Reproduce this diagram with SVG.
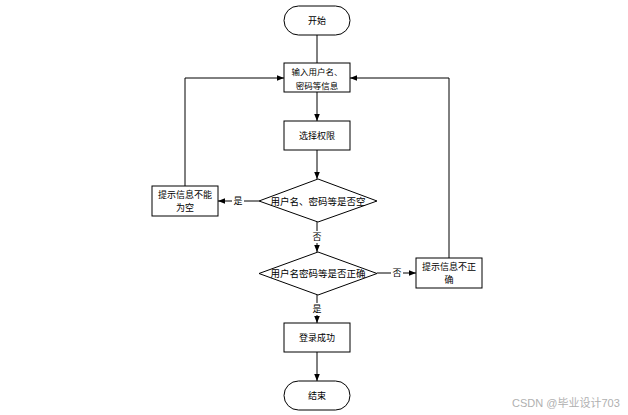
<svg xmlns="http://www.w3.org/2000/svg" width="628" height="415" viewBox="0 0 628 415">
<defs>
<marker id="arr" viewBox="0 0 10 10" refX="10" refY="5" markerWidth="7" markerHeight="7" markerUnits="userSpaceOnUse" orient="auto">
<path d="M0,1 L10,5 L0,9 z" fill="#000"/>
</marker>
<style>
.shape{fill:#fff;stroke:#000;stroke-width:1}
.t{font-family:"Liberation Sans","Noto Sans CJK SC",sans-serif;font-size:9px;fill:#000;text-anchor:middle;dominant-baseline:central}
.c{fill:none;stroke:#000;stroke-width:1}
.wm{font-family:"Liberation Sans","Noto Sans CJK SC",sans-serif;font-size:11px;fill:#b0b0b0}
</style>
</defs>
<rect width="628" height="415" fill="#fff"/>
<g id="connectors">
<line class="c" x1="317" y1="35" x2="317" y2="63"/>
<line class="c" x1="317" y1="92" x2="317" y2="121" marker-end="url(#arr)"/>
<line class="c" x1="317" y1="150" x2="317" y2="179" marker-end="url(#arr)"/>
<line class="c" x1="259" y1="201" x2="218" y2="201" marker-end="url(#arr)"/>
<polyline class="c" points="185,186 185,78 284,78" marker-end="url(#arr)"/>
<line class="c" x1="317" y1="222" x2="317" y2="252" marker-end="url(#arr)"/>
<line class="c" x1="377" y1="273" x2="416" y2="273" marker-end="url(#arr)"/>
<polyline class="c" points="449,258 449,78 350,78" marker-end="url(#arr)"/>
<line class="c" x1="317" y1="295" x2="317" y2="323" marker-end="url(#arr)"/>
<line class="c" x1="317" y1="352" x2="317" y2="381" marker-end="url(#arr)"/>
<rect x="232" y="195" width="12" height="12" fill="#fff"/>
<text class="t" x="238" y="201">是</text>
<rect x="311" y="231" width="12" height="12" fill="#fff"/>
<text class="t" x="317" y="237">否</text>
<rect x="391" y="267" width="12" height="12" fill="#fff"/>
<text class="t" x="397" y="273">否</text>
<rect x="311" y="303" width="12" height="12" fill="#fff"/>
<text class="t" x="317" y="309">是</text>
</g>
<g id="start">
<rect class="shape" x="284" y="6" width="66" height="29" rx="14.5"/>
<text class="t" x="317" y="20.5">开始</text>
</g>
<g id="input">
<rect class="shape" x="284" y="63" width="66" height="29"/>
<text class="t" x="317" y="72" style="font-size:8.5px">输入用户名、</text>
<text class="t" x="317" y="85.5" style="font-size:8.5px">密码等信息</text>
</g>
<g id="choose">
<rect class="shape" x="284" y="121" width="66" height="29"/>
<text class="t" x="317" y="135.5">选择权限</text>
</g>
<g id="check-empty">
<polygon class="shape" points="318,179 377,201 318,222 259,201"/>
<text class="t" x="318" y="201" style="font-size:9.5px">用户名、密码等是否空</text>
</g>
<g id="empty-msg">
<rect class="shape" x="152" y="186" width="66" height="30"/>
<text class="t" x="185" y="194.5">提示信息不能</text>
<text class="t" x="185" y="208">为空</text>
</g>
<g id="check-correct">
<polygon class="shape" points="318,252 377,273.5 318,295 259,273.5"/>
<text class="t" x="318" y="273.5" style="font-size:9.5px">用户名密码等是否正确</text>
</g>
<g id="wrong-msg">
<rect class="shape" x="416" y="258" width="66" height="30"/>
<text class="t" x="449" y="267">提示信息不正</text>
<text class="t" x="449" y="280">确</text>
</g>
<g id="success">
<rect class="shape" x="284" y="323" width="66" height="29"/>
<text class="t" x="317" y="337.5">登录成功</text>
</g>
<g id="end">
<rect class="shape" x="284" y="381" width="66" height="29" rx="14.5"/>
<text class="t" x="317" y="395.5">结束</text>
</g>
<text class="wm" x="512" y="407">CSDN @毕业设计703</text>
</svg>
